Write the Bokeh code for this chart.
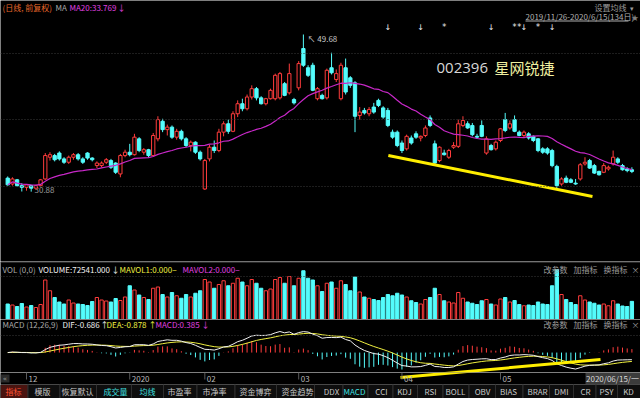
import pandas as pd
from bokeh.plotting import figure
from bokeh.layouts import column
from bokeh.models import Range1d, ColumnDataSource, Span
from bokeh.embed import file_html
from bokeh.resources import INLINE
from bokeh.core.properties import value

# ---------------- data ----------------
open_ = [32.5, 31.8, 32.3, 31.6, 31.4, 31.6, 31.3, 31.6, 32.4, 35.0, 35.2, 35.5, 34.8, 34.4, 35.0, 35.3, 34.8, 35.5, 34.9, 34.0,
         34.0, 34.4, 34.6, 34.3, 33.0, 35.2, 35.6, 35.3, 37.2, 35.6, 35.9, 35.2, 37.2, 39.3, 38.3, 38.6, 37.4, 38.1, 37.2, 36.4,
         36.8, 35.6, 31.2, 34.8, 36.2, 35.8, 38.0, 39.0, 38.1, 40.2, 41.4, 40.8, 42.2, 43.2, 42.1, 41.4, 42.0, 42.0, 42.1, 43.8,
         42.7, 41.9, 43.3, 48.0, 45.7, 46.0, 42.0, 42.4, 42.1, 45.7, 44.3, 42.0, 45.7, 44.5, 43.9, 40.0, 40.6, 40.2, 41.0, 41.8,
         40.9, 40.6, 38.0, 38.0, 36.7, 36.0, 37.3, 37.8, 37.3, 37.6, 39.7, 36.6, 34.6, 35.5, 35.0, 36.2, 36.3, 38.8, 39.0, 38.8,
         37.5, 38.8, 35.5, 36.4, 36.0, 37.0, 39.5, 38.5, 39.5, 38.0, 37.6, 37.8, 37.5, 37.2, 36.0, 36.0, 35.8, 33.9, 31.8, 32.5,
         32.3, 31.9, 32.4, 34.2, 34.6, 34.0, 33.3, 33.2, 33.6, 34.2, 34.8, 34.0, 33.6, 33.5]
high = [32.7, 32.6, 32.4, 31.9, 31.8, 31.7, 31.7, 32.4, 35.5, 35.6, 35.4, 35.7, 35.0, 35.2, 35.5, 35.5, 35.0, 35.6, 35.0, 34.5,
        34.5, 34.9, 34.8, 34.4, 35.4, 35.9, 36.6, 37.8, 37.4, 36.1, 36.0, 37.9, 39.9, 39.6, 38.9, 38.8, 38.4, 38.3, 37.4, 37.0,
        36.9, 35.8, 34.8, 36.5, 37.0, 38.4, 39.3, 39.5, 40.5, 41.8, 42.0, 42.5, 43.6, 43.4, 42.3, 42.1, 43.2, 45.0, 45.2, 44.0,
        46.2, 42.1, 46.5, 49.68, 46.0, 46.3, 43.4, 42.6, 45.6, 47.5, 45.5, 46.3, 46.8, 44.7, 44.1, 41.0, 40.9, 41.0, 41.5, 42.0,
        41.1, 40.9, 38.3, 38.2, 37.0, 37.7, 37.6, 38.1, 37.6, 38.8, 40.0, 37.0, 36.3, 35.9, 36.0, 36.8, 39.5, 39.9, 39.3, 39.1,
        37.8, 39.4, 37.5, 36.6, 37.0, 38.5, 40.3, 39.4, 40.0, 38.2, 38.2, 38.0, 37.6, 37.3, 36.2, 36.2, 36.0, 34.1, 32.6, 32.8,
        32.5, 32.4, 34.3, 35.0, 34.8, 34.2, 33.4, 34.3, 34.0, 35.8, 35.0, 34.2, 33.8, 33.8]
low = [31.6, 31.6, 31.5, 30.9, 31.0, 30.88, 31.1, 31.5, 32.3, 34.6, 34.5, 34.6, 34.2, 34.2, 34.7, 34.6, 34.2, 34.7, 34.5, 33.7,
       33.8, 34.2, 33.6, 33.0, 32.6, 35.0, 35.1, 35.2, 35.6, 35.3, 35.0, 35.1, 36.9, 38.0, 37.6, 37.2, 37.1, 37.0, 36.2, 35.7,
       35.4, 34.6, 31.1, 34.5, 35.5, 35.6, 37.5, 37.8, 38.0, 39.8, 40.5, 40.6, 41.9, 41.8, 41.3, 41.2, 41.9, 41.8, 41.9, 42.3,
       42.5, 41.3, 43.0, 45.8, 44.6, 42.9, 41.8, 41.9, 41.9, 44.9, 44.0, 41.8, 42.5, 43.3, 38.0, 39.5, 40.1, 39.9, 40.2, 41.0,
       39.6, 38.6, 37.2, 36.2, 35.5, 35.8, 36.5, 37.2, 36.9, 37.4, 38.6, 34.0, 34.4, 35.2, 34.8, 36.0, 36.1, 38.6, 38.4, 37.5,
       37.2, 37.4, 35.3, 35.8, 35.8, 36.8, 38.0, 38.3, 38.0, 37.5, 37.4, 37.1, 36.8, 35.6, 35.4, 35.3, 33.8, 31.3, 31.6, 31.9,
       31.9, 31.7, 32.2, 34.0, 33.6, 33.0, 32.8, 33.1, 33.4, 34.0, 34.2, 33.4, 33.2, 33.1]
close = [31.7, 32.4, 31.6, 31.4, 31.7, 31.3, 31.6, 32.3, 35.2, 35.3, 34.7, 34.8, 34.4, 35.0, 35.3, 34.8, 34.4, 34.9, 34.7, 34.3,
         34.3, 34.7, 33.8, 33.2, 35.2, 35.6, 35.3, 37.4, 35.8, 35.9, 35.2, 37.6, 39.5, 38.3, 38.6, 37.4, 38.1, 37.2, 36.4, 36.8,
         35.6, 34.8, 34.6, 36.2, 35.8, 38.0, 39.0, 38.1, 40.2, 41.4, 40.8, 42.2, 43.2, 42.1, 41.4, 42.0, 43.0, 44.8, 45.0, 42.4,
         45.0, 41.5, 46.2, 46.0, 44.8, 43.0, 43.2, 42.0, 45.4, 45.1, 45.0, 46.0, 42.8, 43.6, 39.9, 40.4, 40.3, 40.7, 40.4, 41.2,
         39.8, 38.8, 37.4, 36.4, 35.8, 37.5, 36.7, 37.4, 37.5, 38.5, 38.8, 34.3, 36.2, 35.3, 35.8, 36.4, 39.0, 39.4, 38.5, 37.7,
         37.4, 37.5, 37.2, 35.9, 36.8, 38.4, 38.2, 39.0, 38.1, 37.6, 38.0, 37.3, 37.0, 35.8, 35.6, 35.5, 34.0, 31.6, 32.4, 32.0,
         32.0, 31.8, 34.1, 34.4, 33.7, 33.1, 32.9, 34.0, 33.8, 35.0, 34.4, 33.5, 33.4, 33.3]
volume = [62000, 58000, 52000, 64000, 50000, 56000, 48000, 60000,
          158000,
          115000, 88000, 70000, 62000, 78000, 66000, 62000, 60000, 56000, 72000, 88000, 78000,
          74000, 70000, 84000, 76000, 90000, 135000, 118000, 98000, 88000, 80000,
          125000, 130000, 100000, 90000, 108000, 95000, 85000, 100000, 90000, 105000, 115000,
          160000,
          150000, 125000, 140000, 155000, 135000, 145000, 165000, 150000, 135000, 160000, 145000,
          125000, 115000, 122000, 160000, 168000, 145000, 172000, 135000, 165000,
          195000,
          165000, 158000, 135000, 112000, 145000, 150000, 125000, 155000, 140000, 115000, 170000,
          110000, 90000, 85000, 80000, 76000, 88000, 100000, 95000, 105000,
          98000, 90000, 75000, 68000, 62000, 80000, 88000, 125000, 100000,
          75000, 70000, 66000, 108000, 85000, 70000, 65000, 60000, 75000, 80000, 62000, 58000,
          82000, 88000, 70000, 76000, 60000, 55000, 58000, 56000, 70000, 62000, 60000,
          135000, 200000,
          100000, 80000, 68000, 60000, 95000, 78000, 70000, 65000, 58000, 62000,
          55000, 75000, 62000, 54000, 52000, 72541]

month_idx = [4, 26, 42, 62, 84, 105]
month_labels = ["12", "2020", "02", "03", "04", "05"]
marker_idx = [81, 88, 93, 103, 108, 109, 110, 113, 116]
marker_sym = ["↓", "↓", "*", "↓", "*", "*", "↓", "*", "↓"]
trend_idx = [81.1, 124.6]          # hand-drawn support line on the price panel
trend_price = [35.21, 30.30]
tab_labels = ["指标", "模版", "恢复默认", "成交量", "均线", "市盈率", "市净率", "资金博弈", "资金趋势",
              "DDX", "MACD", "CCI", "KDJ", "RSI", "BOLL", "OBV", "BIAS", "BRAR", "DMI", "CR", "PSY", "KD"]

n = len(close)
assert all(len(a) == n for a in (open_, high, low, volume))

# ---------------- derived indicators ----------------
s = pd.Series(close, dtype=float)
ma20 = s.rolling(20, min_periods=1).mean()
dif = s.ewm(span=12, adjust=False).mean() - s.ewm(span=26, adjust=False).mean()
dea = dif.ewm(span=9, adjust=False).mean()
mbar = 2 * (dif - dea)

# ---------------- styling / layout ----------------
RED = "#ff3c3c"
CYAN = "#54fcfc"
MAG = "#e040e0"
YEL = "#f0f040"
GRAY = "#a8a8a8"
WHITE = "#f0f0f0"
CJK = "Noto Sans CJK SC"
W = 640

X0, DX = 7.23, 4.693            # px of bar 0, px per bar
def xi(px):
    return (px - X0) / DX
xr = Range1d(xi(0), xi(640))

P0, PPX = 53.747, 8.36           # price at top of the page, px per unit
def py(r):
    return P0 - r / PPX

VPX = 4000.0                      # volume per px
def vy(r):
    return (319 - r) * VPX

hi = max(dif.max(), dea.max(), mbar.max())
lo = min(dif.min(), dea.min(), mbar.min())
MPX = (369 - 331) / (hi - lo)
def my(r):
    return hi - (r - 331) / MPX


def mk(h, yr, xrange=None):
    f = figure(width=W, height=h, x_range=xrange if xrange is not None else xr, y_range=yr,
               output_backend="svg", toolbar_location=None, x_axis_location=None, y_axis_location=None,
               min_border=0, background_fill_color="black", border_fill_color="black",
               outline_line_color=None)
    f.grid.visible = False
    return f


def txt(f, x, y, s_, color, size=8, align="left", font=CJK, baseline="middle"):
    f.text(x=[x], y=[y], text=[s_], text_color=color, text_font_size=f"{size}px",
           text_font=value(font), text_align=align, text_baseline=baseline)


idx = list(range(n))
inc = [c >= o for o, c in zip(open_, close)]
col = [RED if k else CYAN for k in inc]
fill = ["black" if k else CYAN for k in inc]
src = ColumnDataSource(dict(x=idx, o=open_, h=high, l=low, c=close,
                            top=[max(o, c) for o, c in zip(open_, close)],
                            bot=[min(o, c) for o, c in zip(open_, close)],
                            col=col, fill=fill, vol=volume, ma=list(ma20),
                            dif=list(dif), dea=list(dea), m=list(mbar),
                            mcol=[RED if v >= 0 else CYAN for v in mbar]))

# ---------------- main price panel (page y 0-261) ----------------
p1 = mk(261, Range1d(py(261), py(0)))
for r in (53, 119, 186):
    p1.add_layout(Span(location=py(r), dimension="width", line_color="#3a3a3a", line_dash="1 2", line_width=1))
txt(p1, xi(34), py(189), "30.88", "#9a9a9a", 8)
p1.segment(x0="x", y0="h", x1="x", y1="l", color="col", source=src, line_width=1)
p1.vbar(x="x", width=0.7, top="top", bottom="bot", fill_color="fill", line_color="col", source=src)
p1.line(x="x", y="ma", color="#c828c8", line_width=1.2, source=src)
p1.line(trend_idx, trend_price, color="#ffee00", line_width=3)
txt(p1, xi(307), py(38), "↖ 49.68", "#c8c8c8", 8)

txt(p1, xi(2), py(7), "(日线, 前复权)", "#e8682a", 8)
txt(p1, xi(55), py(7), "MA", GRAY, 8)
txt(p1, xi(69), py(7), "MA20:33.769", MAG, 8)
txt(p1, xi(117), py(7), "↓", MAG, 8)
txt(p1, xi(594), py(7), "设置均线", "#9c9c9c", 8)
txt(p1, xi(629), py(7), "▾", "#9c9c9c", 7)
txt(p1, xi(525), py(16), "2019/11/26-2020/6/15(134日)", "#b0b0b0", 8)
p1.segment(x0=[xi(525)], y0=[py(20.5)], x1=[xi(628)], y1=[py(20.5)], color="#b0b0b0", line_width=1)
txt(p1, xi(631), py(16), "★", "#808080", 7)
p1.text(x=marker_idx, y=[py(27)] * len(marker_idx), text=marker_sym, text_color=WHITE,
        text_font_size="8px", text_font=value("DejaVu Sans"), text_align="center", text_baseline="middle")
txt(p1, xi(436), py(67), "002396", "#d8d8d8", 15, font="Open Sans")
txt(p1, xi(494), py(67), "星网锐捷", "#f0f0a0", 15)

# ---------------- volume panel (page y 261-319) ----------------
p2 = mk(58, Range1d(0, vy(261)))
p2.add_layout(Span(location=vy(261.5), dimension="width", line_color="#505050", line_width=1))
p2.add_layout(Span(location=vy(276), dimension="width", line_color="#3a3a3a", line_dash="1 2", line_width=1))
p2.vbar(x="x", width=0.7, top="vol", bottom=0, fill_color="fill", line_color="col", source=src)
txt(p2, xi(2), vy(269), "VOL (0,0)", GRAY, 8)
txt(p2, xi(38), vy(269), "VOLUME:72541.000", WHITE, 8)
txt(p2, xi(111), vy(269), "↓", WHITE, 8)
txt(p2, xi(119), vy(269), "MAVOL1:0.000−", YEL, 8)
txt(p2, xi(182), vy(269), "MAVOL2:0.000−", MAG, 8)
for xx, t in ((543, "改参数"), (573, "加指标"), (603, "换指标"), (631, "×")):
    txt(p2, xi(xx), vy(269), t, "#9c9c9c", 8)

# ---------------- MACD panel (page y 319-372) ----------------
p3 = mk(53, Range1d(my(372), my(319)))
p3.add_layout(Span(location=my(335), dimension="width", line_color="#3a3a3a", line_dash="1 2", line_width=1))
p3.segment(x0="x", y0=0, x1="x", y1="m", color="mcol", source=src, line_width=1)
p3.line(x="x", y="dea", color=YEL, line_width=1, source=src)
p3.line(x="x", y="dif", color=WHITE, line_width=1, source=src)
p3.line([xi(400), xi(600)], [my(377), my(359)], color="#ffee00", line_width=3)
txt(p3, xi(2), my(324), "MACD (12,26,9)", GRAY, 8)
txt(p3, xi(62), my(324), "DIF:-0.686", WHITE, 8)
txt(p3, xi(100), my(324), "↑", WHITE, 8)
txt(p3, xi(106), my(324), "DEA:-0.878", YEL, 8)
txt(p3, xi(148), my(324), "↑", YEL, 8)
txt(p3, xi(155), my(324), "MACD:0.385", MAG, 8)
txt(p3, xi(201), my(324), "↓", MAG, 8)
for xx, t in ((543, "改参数"), (573, "加指标"), (603, "换指标"), (631, "×")):
    txt(p3, xi(xx), my(324), t, "#9c9c9c", 8)

# ---------------- date axis strip (page y 372-384) ----------------
p4 = mk(12, Range1d(my(384), my(372)))
p4.line([xi(400), xi(600)], [my(377), my(359)], color="#ffee00", line_width=3)
p4.segment(x0=month_idx, y0=[my(372)] * 6, x1=month_idx, y1=[my(379)] * 6, color="#5a5a5a")
p4.text(x=month_idx, y=[my(378)] * 6, text=month_labels, x_offset=2, text_color="#b8b8b8",
        text_font_size="8px", text_font=value(CJK), text_align="left", text_baseline="middle")
p4.quad(left=[xi(585)], right=[xi(640)], bottom=[my(383.5)], top=[my(372.5)], fill_color="#3c3c3c", line_color=None)
txt(p4, xi(612), my(378), "2020/06/15/一", "#d8d8d8", 8, align="center")
p4.quad(left=[xi(0)], right=[xi(9)], bottom=[my(382)], top=[my(374)], fill_color="#2a2a2a", line_color=None)
txt(p4, xi(4.5), my(378), "«", "#9a9a9a", 7, align="center", font="DejaVu Sans")

# ---------------- tab row (page y 384-398) ----------------
tab_c = [13, 42, 77, 115, 147, 179, 214, 255, 297, 331, 354, 381, 404, 430, 455, 482, 508, 537, 561, 585, 606, 628]
bounds = [0] + [(a + b) / 2 for a, b in zip(tab_c[:-1], tab_c[1:])] + [640]
p5 = mk(14, Range1d(0, 1), xrange=Range1d(0, 640))
p5.quad(left=bounds[:-1], right=bounds[1:], bottom=[0] * len(tab_c), top=[1] * len(tab_c),
        fill_color=["#4a1410"] + ["#0e0e0e"] * (len(tab_c) - 1), line_color="#2e2e2e")
tcol = ["#ff5030" if i == 0 else ("#40e0e0" if t in ("成交量", "均线", "MACD") else "#c8c8c8")
        for i, t in enumerate(tab_labels)]
p5.text(x=tab_c, y=[0.5] * len(tab_c), text=tab_labels, text_color=tcol, text_font_size="8px",
        text_font=value(CJK), text_align="center", text_baseline="middle")

layout = column(p1, p2, p3, p4, p5, spacing=0)
open("out.html", "w").write(file_html(layout, INLINE))
